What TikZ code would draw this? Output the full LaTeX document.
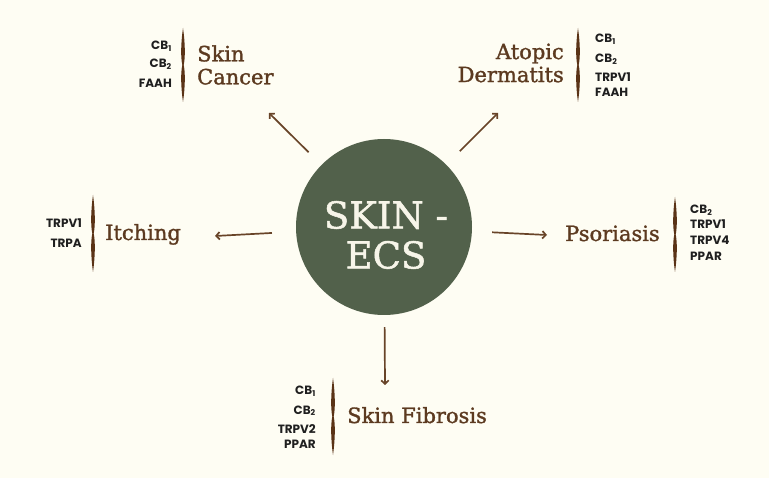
\documentclass[tikz,border=0pt]{standalone}
\usepackage{fontspec}
\setmainfont{DejaVu Serif}[FakeBold=1.4]
\newfontfamily\tagfont{Poppins}
\usetikzlibrary{arrows.meta}

\definecolor{bgcream}{HTML}{FEFDF3}
\definecolor{ecsgreen}{HTML}{52614B}
\definecolor{ecstext}{HTML}{F7F5E9}
\definecolor{skinbrown}{HTML}{5C3A20}
\definecolor{arrowbrown}{HTML}{684428}
\definecolor{barbrown}{HTML}{5A3316}

% tapered divider: x, top, bottom
\newcommand{\dividerbar}[3]{%
  \fill[barbrown] (#1,#2)
    .. controls ({#1+2.3},{#2+0.22*(#3-#2)}) and ({#1+2.3},{#2+0.40*(#3-#2)}) .. ({#1+0.7},{#2+0.5*(#3-#2)})
    .. controls ({#1+2.3},{#2+0.60*(#3-#2)}) and ({#1+2.3},{#2+0.78*(#3-#2)}) .. (#1,#3)
    .. controls ({#1-2.3},{#2+0.78*(#3-#2)}) and ({#1-2.3},{#2+0.60*(#3-#2)}) .. ({#1-0.7},{#2+0.5*(#3-#2)})
    .. controls ({#1-2.3},{#2+0.40*(#3-#2)}) and ({#1-2.3},{#2+0.22*(#3-#2)}) .. (#1,#2) -- cycle;}

\tikzset{
  disease/.style={text=skinbrown, inner sep=0pt, font=\fontsize{21}{23}\selectfont},
  tag/.style={text=black!88, inner sep=0pt, font=\tagfont\bfseries\fontsize{12}{12}\selectfont},
  link/.style={arrowbrown, line width=1.7pt, -{Straight Barb[length=3.5pt,width=7.5pt]}}
}

\begin{document}
\begin{tikzpicture}[x=1pt,y=-1pt]
    \fill[bgcream] (0,0) rectangle (769,478);
    \useasboundingbox (0,0) rectangle (769,478);

    % centre
    \node[circle, fill=ecsgreen, minimum size=176pt, inner sep=0pt] (ecs) at (384,227) {};
    \node[text=ecstext, align=center, inner sep=0pt,
          font=\fontsize{37}{40}\selectfont] (ecstitle) at (386,235) {SKIN -\\ECS};

    % conditions
    \node[disease, align=left, anchor=west] (cancer) at (197,65) {Skin\\Cancer};
    \node[disease, align=right, anchor=east] (atopic) at (564,63) {Atopic\\Dermatits};
    \node[disease, anchor=base west] (itching) at (105,240) {Itching};
    \node[disease, anchor=base west] (psoriasis) at (565,241) {Psoriasis};
    \node[disease, anchor=base west] (fibrosis) at (347,423) {Skin Fibrosis};

    % arrows
    \coordinate (tipcancer) at (269,113);
    \coordinate (tipatopic) at (498,113);
    \coordinate (tipitching) at (215,236);
    \coordinate (tippsoriasis) at (547,235);
    \coordinate (tipfibrosis) at (385,385);
    \draw[link, shorten <=18pt] (ecs) -- (tipcancer);
    \draw[link, shorten <=19pt] (ecs) -- (tipatopic);
    \draw[link, shorten <=24pt] (ecs) -- (tipitching);
    \draw[link, shorten <=20pt] (ecs) -- (tippsoriasis);
    \draw[link, shorten <=12pt] (ecs) -- (tipfibrosis);

    % dividers
    \dividerbar{183}{28}{102}
    \dividerbar{578}{28}{102}
    \dividerbar{93}{195}{272}
    \dividerbar{675}{197}{272}
    \dividerbar{333}{378}{455}

    % receptors
    \node[tag, anchor=base east] (cancercbone) at (172,50) {CB\textsubscript{1}};
    \node[tag, anchor=base east] (cancercbtwo) at (172,68) {CB\textsubscript{2}};
    \node[tag, anchor=base east] (cancerfaah) at (172,88) {FAAH};

    \node[tag, anchor=base west] (atopiccbone) at (595,43) {CB\textsubscript{1}};
    \node[tag, anchor=base west] (atopiccbtwo) at (595,63) {CB\textsubscript{2}};
    \node[tag, anchor=base west] (atopictrpv) at (595,82) {TRPV1};
    \node[tag, anchor=base west] (atopicfaah) at (595,97) {FAAH};

    \node[tag, anchor=base east] (itchingtrpv) at (82,228) {TRPV1};
    \node[tag, anchor=base east] (itchingtrpa) at (82,248) {TRPA};

    \node[tag, anchor=base west] (psoriasiscbtwo) at (690,214) {CB\textsubscript{2}};
    \node[tag, anchor=base west] (psoriasistrpv) at (690,229) {TRPV1};
    \node[tag, anchor=base west] (psoriasistrpvfour) at (690,245) {TRPV4};
    \node[tag, anchor=base west] (psoriasisppar) at (690,261) {PPAR};

    \node[tag, anchor=base east] (fibrosiscbone) at (316,395) {CB\textsubscript{1}};
    \node[tag, anchor=base east] (fibrosiscbtwo) at (316,414) {CB\textsubscript{2}};
    \node[tag, anchor=base east] (fibrosistrpv) at (316,434) {TRPV2};
    \node[tag, anchor=base east] (fibrosisppar) at (316,449) {PPAR};
\end{tikzpicture}
\end{document}
